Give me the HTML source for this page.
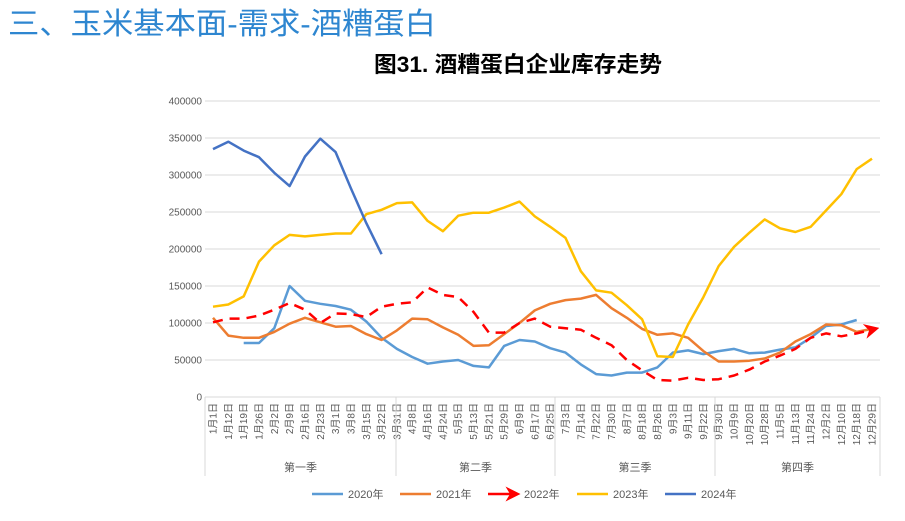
<!DOCTYPE html>
<html><head><meta charset="utf-8">
<style>
html,body{margin:0;padding:0;background:#fff;width:905px;height:521px;overflow:hidden}
svg{display:block;font-family:"Liberation Sans","Noto Sans CJK SC",sans-serif}
</style></head>
<body>
<svg id="c" width="905" height="521" viewBox="0 0 905 521">
<text x="8" y="34" font-size="30" fill="#2e86d0" textLength="428" lengthAdjust="spacingAndGlyphs" font-family="'Liberation Sans','Noto Sans CJK SC',sans-serif">三、玉米基本面-需求-酒糟蛋白</text>
<text x="518" y="72" font-size="22" font-weight="bold" fill="#000" text-anchor="middle" textLength="288" lengthAdjust="spacingAndGlyphs">图31. 酒糟蛋白企业库存走势</text>
<g id="grid"></g>
<g id="yax"></g>
<g id="xax"></g>
<g id="series"></g>
<g id="legend"></g>
</svg>
<script>
const categories=["1月1日","1月12日","1月19日","1月26日","2月2日","2月9日","2月16日","2月23日","3月1日","3月8日","3月15日","3月22日","3月31日","4月8日","4月16日","4月24日","5月5日","5月13日","5月21日","5月29日","6月9日","6月17日","6月25日","7月3日","7月14日","7月22日","7月30日","8月7日","8月18日","8月26日","9月3日","9月11日","9月22日","9月30日","10月9日","10月20日","10月28日","11月5日","11月13日","11月24日","12月2日","12月10日","12月18日","12月29日"];
const quarters=["第一季","第二季","第三季","第四季"];
const yTicks=[0,50000,100000,150000,200000,250000,300000,350000,400000];
const s2020=[null,null,73000,73000,93000,150000,130000,126000,123000,118000,102000,80000,65000,54000,45000,48000,50000,42000,40000,69000,77000,75000,66000,60000,44000,31000,29000,33000,33000,40000,60000,63000,58000,62000,65000,59000,60000,64000,67000,80000,96000,98000,104000,null];
const s2021=[107000,83000,80000,80000,88000,99000,107000,101000,95000,96000,85000,77000,90000,106000,105000,94000,84000,69000,70000,85000,100000,117000,126000,131000,133000,138000,120000,107000,92000,84000,86000,80000,62000,48000,48000,49000,52000,60000,75000,85000,98000,97000,88000,92000];
const s2022=[101000,106000,106000,110000,118000,127000,118000,100000,113000,112000,108000,122000,126000,128000,148000,138000,135000,115000,87000,87000,100000,106000,95000,93000,91000,80000,70000,50000,36000,23000,22000,26000,23000,24000,29000,37000,48000,56000,65000,80000,86000,82000,86000,91000];
const s2023=[122000,125000,136000,183000,205000,219000,217000,219000,221000,221000,247000,253000,262000,263000,238000,224000,245000,249000,249000,256000,264000,244000,230000,215000,170000,144000,141000,124000,105000,55000,54000,98000,135000,177000,203000,222000,240000,228000,223000,230000,252000,274000,308000,322000];
const s2024=[335000,345000,333000,324000,303000,285000,325000,349000,331000,282000,235000,193000];

const NS="http://www.w3.org/2000/svg";
function el(tag,attrs,parent){const e=document.createElementNS(NS,tag);for(const k in attrs)e.setAttribute(k,attrs[k]);parent.appendChild(e);return e;}
const X0=213,X1=872,Y0=397,Y1=101,YMAX=400000;
const xS=i=>X0+i*(X1-X0)/(categories.length-1);
const yS=v=>Y0-(v/YMAX)*(Y0-Y1);
const grid=document.getElementById('grid'),yax=document.getElementById('yax'),xax=document.getElementById('xax'),ser=document.getElementById('series'),leg=document.getElementById('legend');
yTicks.forEach(v=>{
  const l=el('line',{x1:205,x2:880,y1:yS(v),y2:yS(v),stroke:'#d9d9d9','stroke-width':1},grid);
  
  
  const t=el('text',{x:202,y:yS(v)+3.5,'font-size':10,fill:'#595959','text-anchor':'end'},yax);
  t.textContent=String(v);
  
  
});
categories.forEach((c,i)=>{
  const x=xS(i)+3.5;
  const t=el('text',{x:x,y:403,'font-size':10,fill:'#595959','text-anchor':'end',transform:`rotate(-90 ${x} 403)`},xax);
  t.textContent=c;
  
  
});
const qb=[205,396,555,715,880];
qb.forEach(x=>{
  const l=el('line',{x1:x,x2:x,y1:397,y2:476,stroke:'#d9d9d9','stroke-width':1},xax);
  
  
});
quarters.forEach((q,i)=>{
  const t=el('text',{x:(qb[i]+qb[i+1])/2,y:471,'font-size':11,fill:'#595959','text-anchor':'middle'},xax);
  t.textContent=q;
  
  
});
el('defs',{},document.getElementById('c')).innerHTML='<marker id="arr" viewBox="0 0 10 10" refX="5" refY="5" markerWidth="6" markerHeight="6" orient="auto" markerUnits="strokeWidth"><path d="M0,0 L10,5 L0,10 L3,5 z" fill="#ff0000"/></marker>';
function path(data){let d='',pen=false;data.forEach((v,i)=>{if(v==null){pen=false;return;}d+=(pen?'L':'M')+xS(i).toFixed(1)+','+yS(v).toFixed(1)+' ';pen=true;});return d;}
const specs=[[s2020,'#5b9bd5','series-2020',null],[s2021,'#ed7d31','series-2021',null],[s2023,'#ffc000','series-2023',null],[s2024,'#4472c4','series-2024',null],[s2022,'#ff0000','series-2022','10 7']];
specs.forEach(([d,c,n,dash])=>{
  const a={d:path(d),fill:'none',stroke:c,'stroke-width':2.5,'stroke-linejoin':'round'};
  if(dash){a['stroke-dasharray']=dash;a['marker-end']='url(#arr)';}
  const p=el('path',a,ser);
  
  
});
const legItems=[['2020年','#5b9bd5',312],['2021年','#ed7d31',400],['2022年','#ff0000',488],['2023年','#ffc000',577],['2024年','#4472c4',665]];
legItems.forEach(([t,c,x])=>{
  const g=el('g',{},leg);
  
  
  const a={x1:x,x2:x+31,y1:494,y2:494,stroke:c,'stroke-width':2.5};
  if(t==='2022年'){a['marker-end']='url(#arr)';a.x2=x+25;}
  el('line',a,g);
  const tx=el('text',{x:x+36,y:498,'font-size':11,fill:'#595959'},g);
  tx.textContent=t;
});
</script>
</body></html>
